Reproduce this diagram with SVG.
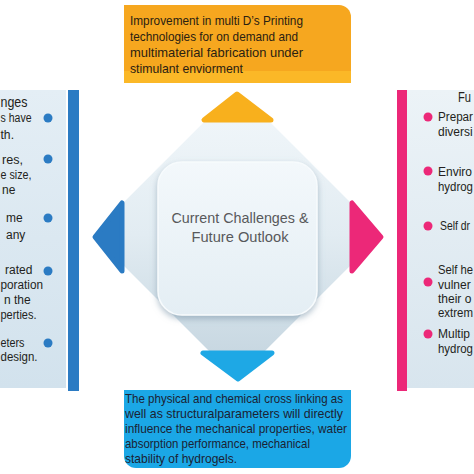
<svg xmlns="http://www.w3.org/2000/svg" width="474" height="474" viewBox="0 0 474 474">
<defs>
<style>
.t{font-family:"Liberation Sans",Arial,sans-serif;font-size:13.5px}
.side{font-family:"Liberation Sans",Arial,sans-serif;font-size:12px;fill:#231f20}
.head{font-family:"Liberation Sans",Arial,sans-serif;font-size:15px;fill:#231f20}
.ctr{font-family:"Liberation Sans",Arial,sans-serif;font-size:15px;fill:#58595b;text-anchor:middle}
.bdot{fill:#2b7bc3}
.pdot{fill:#ec2878}
</style>
<linearGradient id="diag" x1="0" y1="0" x2="1" y2="1">
<stop offset="0" stop-color="#f3f8fb"/>
<stop offset="0.5" stop-color="#e2ecf2"/>
<stop offset="1" stop-color="#c2d3de"/>
</linearGradient>
<linearGradient id="sq" x1="0" y1="0" x2="0" y2="1">
<stop offset="0" stop-color="#f3f8fb"/>
<stop offset="1" stop-color="#e4eef4"/>
</linearGradient>
<linearGradient id="lp" x1="0" y1="0" x2="0" y2="1">
<stop offset="0" stop-color="#e4eef5"/>
<stop offset="1" stop-color="#d2e2ed"/>
</linearGradient>
<linearGradient id="rp" x1="0" y1="0" x2="0" y2="1">
<stop offset="0" stop-color="#ecf3f7"/>
<stop offset="1" stop-color="#d8e5ee"/>
</linearGradient>
<filter id="sh" x="-20%" y="-20%" width="140%" height="140%">
<feDropShadow dx="0" dy="3" stdDeviation="3" flood-color="#7f98aa" flood-opacity="0.6"/>
</filter>
</defs>

<g id="left-panel">
<rect x="-5" y="90" width="71" height="298" fill="url(#lp)"/>
<rect x="68" y="90" width="11" height="301" fill="#2b7bc3"/>
<text class="head" x="0.5" y="107" textLength="27" lengthAdjust="spacingAndGlyphs">nges</text>
<text class="side" x="0.5" y="122" textLength="31" lengthAdjust="spacingAndGlyphs">s have</text>
<text class="side" x="0.5" y="139" textLength="13.5" lengthAdjust="spacingAndGlyphs">th.</text>
<text class="side" x="2" y="164" textLength="21" lengthAdjust="spacingAndGlyphs">res,</text>
<text class="side" x="0.5" y="179" textLength="31" lengthAdjust="spacingAndGlyphs">e size,</text>
<text class="side" x="2" y="194">ne</text>
<text class="side" x="6" y="222">me</text>
<text class="side" x="6" y="239">any</text>
<text class="side" x="5" y="274">rated</text>
<text class="side" x="0.5" y="289" textLength="42.5" lengthAdjust="spacingAndGlyphs">poration</text>
<text class="side" x="4" y="304">n the</text>
<text class="side" x="0.5" y="319" textLength="36" lengthAdjust="spacingAndGlyphs">perties.</text>
<text class="side" x="0.5" y="347" textLength="24" lengthAdjust="spacingAndGlyphs">eters</text>
<text class="side" x="0.5" y="361" textLength="37" lengthAdjust="spacingAndGlyphs">design.</text>
<circle class="bdot" cx="48" cy="118" r="4.5"/>
<circle class="bdot" cx="48" cy="159" r="4.5"/>
<circle class="bdot" cx="48" cy="218" r="4.5"/>
<circle class="bdot" cx="48" cy="271" r="4.5"/>
<circle class="bdot" cx="48" cy="343" r="4.5"/>
</g>

<g id="right-panel">
<rect x="407" y="90" width="72" height="298" fill="url(#rp)"/>
<rect x="397" y="90" width="10" height="301" fill="#ec2878"/>
<text class="head" x="458" y="102" textLength="13" lengthAdjust="spacingAndGlyphs">Fu</text>
<text class="side" x="438" y="121" textLength="35" lengthAdjust="spacingAndGlyphs">Prepar</text>
<text class="side" x="438" y="136">diversi</text>
<text class="side" x="438" y="176">Enviro</text>
<text class="side" x="438" y="191" textLength="35" lengthAdjust="spacingAndGlyphs">hydrog</text>
<text class="side" x="440" y="230" textLength="30" lengthAdjust="spacingAndGlyphs">Self dr</text>
<text class="side" x="438" y="274" textLength="35" lengthAdjust="spacingAndGlyphs">Self he</text>
<text class="side" x="438" y="289">vulner</text>
<text class="side" x="438" y="303">their o</text>
<text class="side" x="438" y="317" textLength="35" lengthAdjust="spacingAndGlyphs">extrem</text>
<text class="side" x="438" y="338">Multip</text>
<text class="side" x="438" y="353" textLength="35" lengthAdjust="spacingAndGlyphs">hydrog</text>
<circle class="pdot" cx="428" cy="117" r="4.5"/>
<circle class="pdot" cx="428" cy="171" r="4.5"/>
<circle class="pdot" cx="428" cy="226" r="4.5"/>
<circle class="pdot" cx="428" cy="282" r="4.5"/>
<circle class="pdot" cx="428" cy="334" r="4.5"/>
</g>

<g id="center">
<rect x="-102.5" y="-102.5" width="205" height="205" rx="30" fill="url(#diag)" transform="translate(237,234) rotate(45)"/>
<rect x="158" y="162" width="159" height="153" rx="24" fill="url(#sq)" stroke="#f7fbfd" stroke-width="1.5" filter="url(#sh)"/>
<text class="ctr" x="240" y="223" textLength="137" lengthAdjust="spacingAndGlyphs">Current Challenges &amp;</text>
<text class="ctr" x="240" y="242" textLength="97" lengthAdjust="spacingAndGlyphs">Future Outlook</text>
</g>

<g id="connectors" stroke-linejoin="round" stroke-width="5">
<polygon points="237,94 204,120 271,120" fill="#f8b01d" stroke="#f8b01d"/>
<polygon points="95,237 122,203 122,271" fill="#2b7bc3" stroke="#2b7bc3"/>
<polygon points="381,237 352,203 352,271" fill="#ec2878" stroke="#ec2878"/>
<polygon points="203,353 272,353 238,379" fill="#1ea8e5" stroke="#1ea8e5"/>
</g>

<g id="top-box">
<path d="M124,5 H339 A12,12 0 0 1 351,17 V83 H124 Z" fill="#f6a71f"/>
<rect x="124" y="71" width="227" height="12" fill="#fbb827"/>
<g class="t" fill="#2a2112">
<text x="130" y="25" textLength="173" lengthAdjust="spacingAndGlyphs">Improvement in multi D’s Printing</text>
<text x="130" y="41" textLength="168" lengthAdjust="spacingAndGlyphs">technologies for on demand and</text>
<text x="130" y="57" textLength="173" lengthAdjust="spacingAndGlyphs">multimaterial fabrication under</text>
<text x="130" y="73" textLength="113" lengthAdjust="spacingAndGlyphs">stimulant enviorment</text>
</g>
</g>

<g id="bottom-box">
<path d="M124,390 H351 V456 A12,12 0 0 1 339,468 H136 A12,12 0 0 1 124,456 Z" fill="#1ba7e6"/>
<g class="t" fill="#1b2233">
<text x="125" y="403" textLength="218" lengthAdjust="spacingAndGlyphs">The physical and chemical cross linking as</text>
<text x="125" y="418" textLength="218" lengthAdjust="spacingAndGlyphs">well as structuralparameters will directly</text>
<text x="125" y="433" textLength="222" lengthAdjust="spacingAndGlyphs">influence the mechanical properties, water</text>
<text x="125" y="448" textLength="185" lengthAdjust="spacingAndGlyphs">absorption performance, mechanical</text>
<text x="125" y="463" textLength="112" lengthAdjust="spacingAndGlyphs">stability of hydrogels.</text>
</g>
</g>
</svg>
